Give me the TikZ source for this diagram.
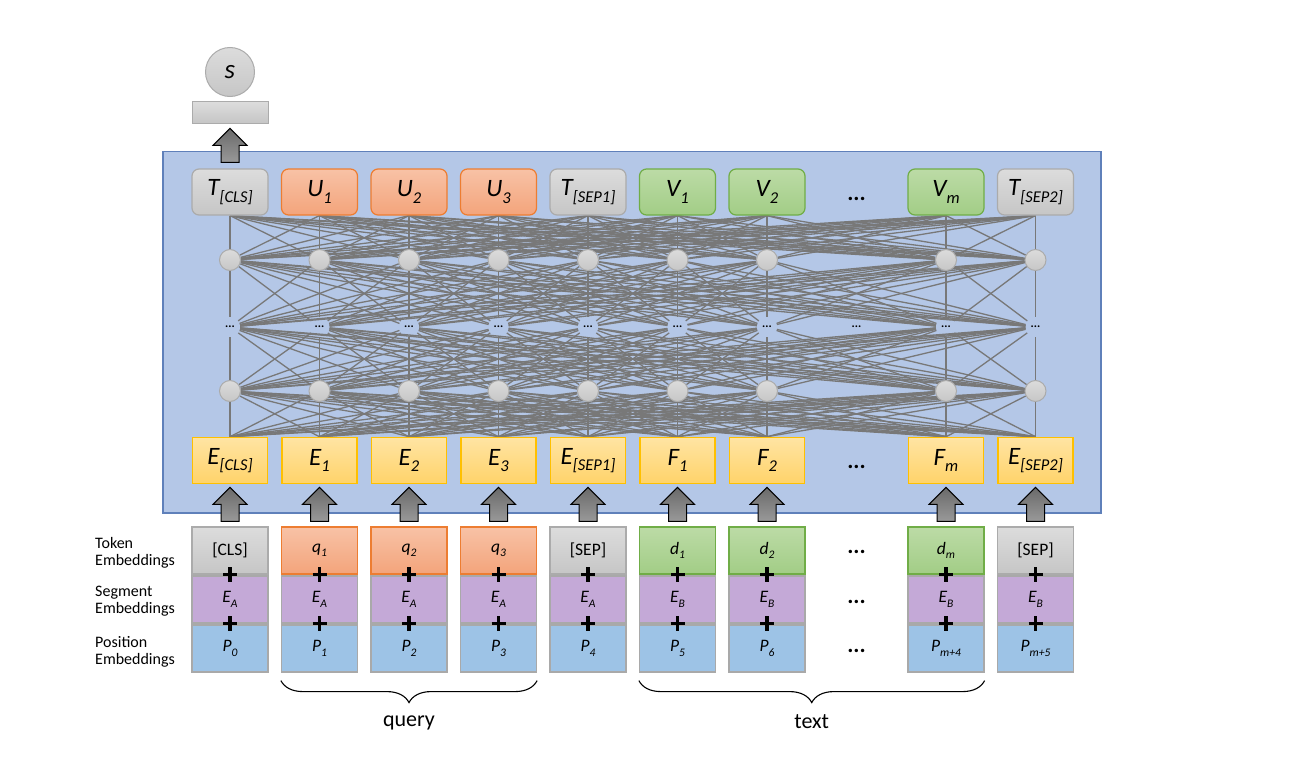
\documentclass[tikz,border=0pt]{standalone}
\usepackage{fontspec}
\setmainfont{Carlito}
\usetikzlibrary{backgrounds, decorations.pathreplacing}

\definecolor{boxblue}{HTML}{B4C7E7}
\definecolor{boxedge}{HTML}{5F80BA}
\definecolor{meshgray}{HTML}{787878}
\definecolor{grayedge}{HTML}{ABABAB}
\definecolor{graytop}{HTML}{DCDCDC}
\definecolor{graybot}{HTML}{C6C6C6}
\definecolor{orangeedge}{HTML}{ED7D31}
\definecolor{orangetop}{HTML}{F8C2A6}
\definecolor{orangebot}{HTML}{F3A47B}
\definecolor{greenedge}{HTML}{70AD47}
\definecolor{greentop}{HTML}{BCDBA6}
\definecolor{greenbot}{HTML}{A2CD86}
\definecolor{yellowedge}{HTML}{FFC000}
\definecolor{yellowtop}{HTML}{FFE4A3}
\definecolor{yellowbot}{HTML}{FFD36A}
\definecolor{segfill}{HTML}{C4A9D7}
\definecolor{posfill}{HTML}{9DC3E6}
\definecolor{rowedge}{HTML}{A9A9A9}
\definecolor{arrowtop}{HTML}{6A6A6A}
\definecolor{arrowbot}{HTML}{999999}

\newcommand\sub[1]{\raisebox{-0.25em}{\scalebox{0.66}{#1}}}

\tikzset{
  every node/.style={inner sep=0pt},
  topbox/.style={rounded corners=7pt, minimum width=76pt, minimum height=46pt, line width=1.2pt, font=\fontsize{25}{29}\selectfont\itshape},
  tgray/.style={topbox, draw=grayedge, top color=graytop, bottom color=graybot},
  torange/.style={topbox, draw=orangeedge, top color=orangetop, bottom color=orangebot},
  tgreen/.style={topbox, draw=greenedge, top color=greentop, bottom color=greenbot},
  embbox/.style={draw=yellowedge, line width=1.6pt, top color=yellowtop, bottom color=yellowbot, minimum width=75pt, minimum height=46pt, font=\fontsize{25}{29}\selectfont\itshape},
  neuron/.style={circle, draw=grayedge, line width=1pt, top color=graytop, bottom color=graybot, minimum size=21pt},
  hdots/.style={circle, minimum size=20pt, font=\fontsize{12}{12}\selectfont\bfseries},
  bigdots/.style={font=\fontsize{23}{23}\selectfont\bfseries},
  mesh/.style={draw=meshgray, line width=1.3pt},
  inbox/.style={line width=1.2pt, minimum width=76pt, minimum height=47pt, font=\fontsize{17.5}{19}\selectfont},
  kgray/.style={inbox, draw=grayedge, top color=graytop, bottom color=graybot},
  korange/.style={inbox, draw=orangeedge, top color=orangetop, bottom color=orangebot, font=\fontsize{17.5}{19}\selectfont\itshape},
  kgreen/.style={inbox, draw=greenedge, top color=greentop, bottom color=greenbot, font=\fontsize{17.5}{19}\selectfont\itshape},
  kseg/.style={inbox, draw=rowedge, fill=segfill, font=\fontsize{17.5}{19}\selectfont\itshape},
  kpos/.style={inbox, draw=rowedge, fill=posfill, font=\fontsize{17.5}{19}\selectfont\itshape},
  rowlabel/.style={anchor=west, align=left, font=\fontsize{16}{17}\selectfont},
  brace/.style={decorate, decoration={brace, amplitude=22pt}, line width=1.1pt},
  bracelabel/.style={font=\fontsize{22}{25}\selectfont},
  plus/.pic={\draw[line width=3.6pt] (-7,0) -- (7,0) (0,-7.5) -- (0,7.5);},
  bigarrow/.pic={\draw[line width=1pt, top color=arrowtop, bottom color=arrowbot] (-9,0) -- (-9,-17) -- (-17,-17) -- (0,-34) -- (17,-17) -- (9,-17) -- (9,0) -- cycle;}
}

\begin{document}
\begin{tikzpicture}[x=1pt, y=-1pt]
\useasboundingbox (0,0) rectangle (1310,760);

% the encoder frame
\begin{pgfonlayer}{background}
\draw[draw=boxedge, fill=boxblue, line width=1.3pt] (163,151.5) rectangle (1101,513);
\end{pgfonlayer}

% output
\node[circle, minimum size=49pt, draw=grayedge, line width=1pt, top color=graytop, bottom color=graybot, font=\fontsize{27}{27}\selectfont\itshape] (s) at (230,72) {s};
\node[minimum width=76pt, minimum height=21pt, draw=grayedge, line width=1pt, top color=graytop, bottom color=graybot] (G) at (230,112.5) {};

% top row of outputs
\foreach \n/\x/\s/\lab in {1/230/tgray/{T\sub{[CLS]}}, 2/319.5/torange/{U\sub{1}}, 3/409/torange/{U\sub{2}}, 4/498.5/torange/{U\sub{3}}, 5/588/tgray/{T\sub{[SEP1]}}, 6/677.5/tgreen/{V\sub{1}}, 7/767/tgreen/{V\sub{2}}, 8/946/tgreen/{V\sub{m}}, 9/1035.5/tgray/{T\sub{[SEP2]}}}
  \node[\s] (T\n) at (\x,192) {\lab};

% hidden layers
\foreach \n/\x in {1/230, 2/319.5, 3/409, 4/498.5, 5/588, 6/677.5, 7/767, 8/946, 9/1035.5} {
  \node[neuron] (A\n) at (\x,260) {};
  \node[hdots] (D\n) at (\x,327) {...};
  \node[neuron] (B\n) at (\x,391) {};
}

% input embeddings
\foreach \n/\x/\lab in {1/230/{E\sub{[CLS]}}, 2/319.5/{E\sub{1}}, 3/409/{E\sub{2}}, 4/498.5/{E\sub{3}}, 5/588/{E\sub{[SEP1]}}, 6/677.5/{F\sub{1}}, 7/767/{F\sub{2}}, 8/946/{F\sub{m}}, 9/1035.5/{E\sub{[SEP2]}}}
  \node[embbox] (E\n) at (\x,460.5) {\lab};

% fully connected layers
\begin{pgfonlayer}{background}
\foreach \i in {1,...,9}
  \foreach \j in {1,...,9} {
    \draw[mesh] (T\i.south) -- (A\j);
    \draw[mesh] (A\i) -- (D\j);
    \draw[mesh] (D\i) -- (B\j);
    \draw[mesh] (B\i) -- (E\j.north);
  }
\end{pgfonlayer}

% token, segment and position rows
\foreach \n/\x/\s/\lab in {1/230/kgray/{[CLS]}, 2/319.5/korange/{q\sub{1}}, 3/409/korange/{q\sub{2}}, 4/498.5/korange/{q\sub{3}}, 5/588/kgray/{[SEP]}, 6/677.5/kgreen/{d\sub{1}}, 7/767/kgreen/{d\sub{2}}, 8/946/kgreen/{d\sub{m}}, 9/1035.5/kgray/{[SEP]}}
  \node[\s] (K\n) at (\x,550.5) {\lab};
\foreach \n/\x/\lab in {1/230/A, 2/319.5/A, 3/409/A, 4/498.5/A, 5/588/A, 6/677.5/B, 7/767/B, 8/946/B, 9/1035.5/B}
  \node[kseg] (S\n) at (\x,599.5) {E\sub{\lab}};
\foreach \n/\x/\lab in {1/230/0, 2/319.5/1, 3/409/2, 4/498.5/3, 5/588/4, 6/677.5/5, 7/767/6, 8/946/{m+4}, 9/1035.5/{m+5}}
  \node[kpos] (P\n) at (\x,648.5) {P\sub{\lab}};

% plus signs and arrows
\foreach \n in {1,...,9} {
  \pic at (K\n.south) {plus};
  \pic at (S\n.south) {plus};
  \pic at ([yshift=5pt]K\n.north) {bigarrow};
}
\pic at ([yshift=6pt]T1.north) {bigarrow};

% dots for the skipped column
\node[bigdots] (dt) at (856.5,199) {...};
\node[hdots] (dm) at (856.5,327) {...};
\node[bigdots] (de) at (856.5,467) {...};
\node[bigdots] (dk) at (856.5,552) {...};
\node[bigdots] (ds) at (856.5,602) {...};
\node[bigdots] (dp) at (856.5,651) {...};

% row labels
\node[rowlabel] (LT) at (95,553) {Token\\Embeddings};
\node[rowlabel] (LS) at (95,601) {Segment\\Embeddings};
\node[rowlabel] (LP) at (95,652) {Position\\Embeddings};

% braces
\draw[brace] ([yshift=-8pt]P4.south east) -- node[bracelabel, yshift=-42pt] {query} ([yshift=-8pt]P2.south west);
\draw[brace] ([yshift=-8pt]P8.south east) -- node[bracelabel, yshift=-41pt] {text} ([yshift=-8pt]P6.south west);
\end{tikzpicture}
\end{document}
